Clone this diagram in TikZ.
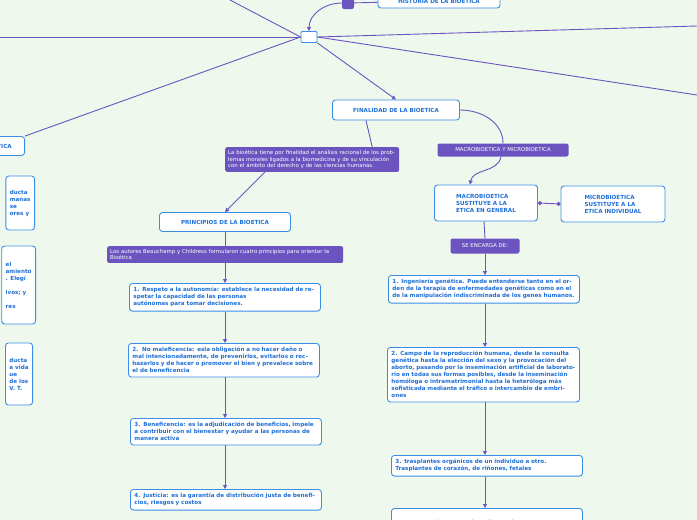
\documentclass[tikz,border=0pt]{standalone}
\usepackage{fontspec}
\setmainfont{DejaVu Sans}
\usetikzlibrary{arrows.meta}
\definecolor{bg}{HTML}{EFF8EC}
\definecolor{bl}{HTML}{3A8EE6}
\definecolor{tb}{HTML}{1E6FD6}
\definecolor{pu}{HTML}{6B54BF}
\begin{document}
\begin{tikzpicture}[x=1pt,y=-1pt,
 box/.style={draw=bl,fill=white,rounded corners=3pt,line width=0.9pt,font=\fontsize{5.6}{7}\selectfont\bfseries,text=tb,align=left,inner sep=4pt},
 note/.style={fill=pu,rounded corners=2pt,font=\fontsize{5.4}{6.6}\selectfont,text=white,align=left,inner sep=3pt},
 ln/.style={draw=pu,line width=0.9pt},
 ar/.style={ln,-{Triangle[length=4pt,width=4pt]}}]
\useasboundingbox (0,0) rectangle (697,520);
\clip (0,0) rectangle (697,520);
\fill[bg] (0,0) rectangle (697,520);
% central
\node[draw=bl,fill=white,line width=0.9pt,rounded corners=1pt,minimum width=16pt,minimum height=11pt,inner sep=0pt] (c) at (309,37) {};
\node[fill=pu,rounded corners=2pt,minimum width=12pt,minimum height=12pt,inner sep=0pt] (sq) at (348,3) {};
\node[box,minimum width=122pt,minimum height=14pt,align=center] (hist) at (439,1) {HISTORIA DE LA BIOETICA};
\coordinate (l1) at (0,37);
\coordinate (l2) at (230,0);
\coordinate (r1) at (697,26);
\coordinate (r2) at (697,95);
\draw[ln] (sq) -- (hist);
\draw[ar] (sq.west) to[out=180,in=90] (c.north);
\draw[ln] (c.west) -- (l1);
\draw[ln] (c.west) -- (l2);
\draw[ln] (c.east) -- (r1);
\draw[ln] (c.east) -- (r2);
% left cut boxes
\node[box,anchor=east,minimum width=40pt,minimum height=19pt,align=right] (lt) at (25,146) {TICA};
\draw[ln] (c.west) -- (lt.north east);
\node[box,anchor=east,minimum height=54pt,align=left] (lb1) at (35,203) {ducta\\manas\\se\\ores y};
\node[box,anchor=east,minimum height=78pt,align=left] (lb2) at (36,285) {el\\amiento\\. Elegí\\~\\ivos; y\\~\\res};
\node[box,anchor=east,minimum height=62pt,align=left] (lb3) at (33,374) {ducta\\a vida\\ue\\de los\\V. T.};
% finalidad
\node[box,minimum width=127pt,minimum height=20pt,align=center] (fin) at (396,110) {FINALIDAD DE LA BIOETICA};
\draw[ar] (c.south east) -- (fin.north);
\node[note,text width=168pt,anchor=north west] (n1) at (225,147) {La bioética tiene por finalidad el análisis racional de los problemas morales ligados a la biomedicina y de su vinculación con el ámbito del derecho y de las ciencias humanas.};
\draw[ln] ([xshift=-30pt]fin.south) -- ([xshift=60pt]n1.north);
\node[box,minimum width=131pt,minimum height=19pt,align=center] (pri) at (225,222) {PRINCIPIOS DE LA BIOETICA};
\draw[ar] ([xshift=40pt]n1.south west) -- (pri.north);
\node[note,text width=230pt,anchor=north west] (n2) at (107,246) {Los autores Beauchamp y Childress formularon cuatro principios para orientar la Bioética};
\draw[ln] (pri.south) -- (pri.south |- n2.north);
\node[box,text width=183pt,anchor=north west] (p1) at (129,283) {1. Respeto a la autonomía: establece la necesidad de respetar la capacidad de las personas\\autónomas para tomar decisiones.};
\draw[ar] (pri.south |- n2.south) -- (pri.south |- p1.north);
\node[box,text width=183pt,anchor=north west] (p2) at (128,343) {2.\ \ No maleficencia: esla obligación a no hacer daño o mal intencionadamente, de prevenirlos, evitarlos o rechazarlos y de hacer o promover el bien y prevalece sobre el de beneficencia};
\node[box,text width=183pt,anchor=north west] (p3) at (130,418) {3. Beneficencia: es la adjudicación de beneficios, impele a contribuir con el bienestar y ayudar a las personas de manera activa};
\node[box,text width=183pt,anchor=north west] (p4) at (130,489) {4. Justicia: es la garantía de distribución justa de beneficios, riesgos y costos};
\draw[ar] (p1.south -| pri.south) -- (p2.north -| pri.south);
\draw[ar] (p2.south -| pri.south) -- (p3.north -| pri.south);
\draw[ar] (p3.south -| pri.south) -- (p4.north -| pri.south);
% macro
\node[note,minimum width=131pt,minimum height=13pt,align=center] (n3) at (503,150) {MACROBIOETICA Y MICROBIOETICA};
\draw[ln] (fin.east) to[out=0,in=90] (n3.north);
\node[box,minimum width=103pt,minimum height=36pt,align=left] (mac) at (486,203) {MACROBIOETICA\\SUSTITUYE A LA\\ETICA EN GENERAL};
\node[box,minimum width=104pt,minimum height=36pt,align=left] (mic) at (613,204) {MICROBIOETICA\\SUSTITUYE A LA\\ETICA INDIVIDUAL};
\draw[ar] ([xshift=-2pt]n3.south) to[out=-100,in=80] ([xshift=-16pt]mac.north);
\draw[ln,{Circle[length=4pt]}-{Circle[length=4pt]}] (mac.east) -- (mic.west);
\node[note,minimum width=69pt,minimum height=15pt,align=center] (se) at (485,246) {SE ENCARGA DE:};
\draw[ln] ([xshift=-2pt]mac.south) -- (se.north);
\node[box,text width=183pt,anchor=north west] (m1) at (388,275) {1. Ingeniería genética. Puede entenderse tanto en el orden de la terapia de enfermedades genéticas como en el de la manipulación indiscriminada de los genes humanos.};
\draw[ar] (se.south) -- (se.south |- m1.north);
\node[box,text width=184pt,anchor=north west] (m2) at (387,347) {2. Campo de la reproducción humana, desde la consulta genética hasta la elección del sexo y la provocación del aborto, pasando por la inseminación artificial de laboratorio en todas sus formas posibles, desde la inseminación homóloga o intramatrimonial hasta la heteróloga más sofisticada mediante el tráfico o intercambio de embriones};
\node[box,text width=183pt,anchor=north west] (m3) at (391,455) {3. trasplantes orgánicos de un individuo a otro. Trasplantes de corazón, de riñones, fetales};
\node[box,text width=183pt,anchor=north west,minimum height=30pt,align=left] (m4) at (391,508) {4. senescencia, eutanasia y distanasia.\par};
\draw[ar] (m1.south -| se.south) -- (m2.north -| se.south);
\draw[ar] (m2.south -| se.south) -- (m3.north -| se.south);
\draw[ar] (m3.south -| se.south) -- (m4.north -| se.south);
\end{tikzpicture}
\end{document}
